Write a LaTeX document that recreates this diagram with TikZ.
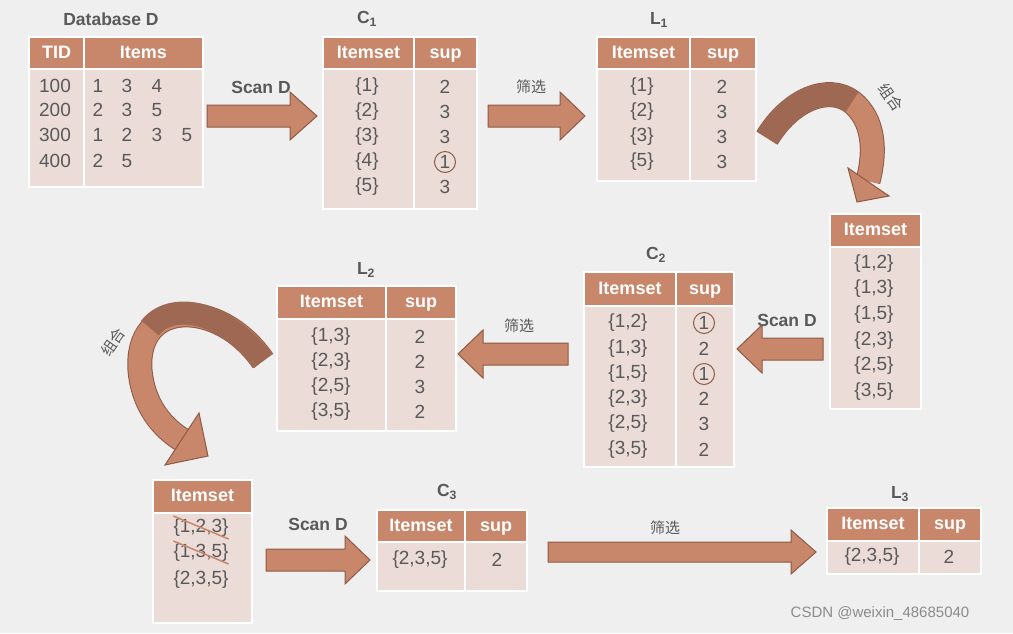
\documentclass[tikz,border=0pt]{standalone}
\usepackage{fontspec}
\setmainfont{Liberation Sans}
\newfontfamily\cjk{Noto Sans CJK SC}
\definecolor{bg}{HTML}{EFEFEF}
\definecolor{hc}{HTML}{C8866A}
\definecolor{bc}{HTML}{EBDCD8}
\definecolor{tx}{HTML}{595959}
\definecolor{dk}{HTML}{9E6852}
\definecolor{ol}{HTML}{8E5A46}
\tikzset{
 cellbox/.style={draw=white,line width=2pt,anchor=north west,inner sep=0pt},
 hdr/.style={cellbox,fill=hc,text=white,font=\bfseries\fontsize{18}{18}\selectfont,text height=13pt,text depth=3pt},
 bdy/.style={cellbox,fill=bc},
 txt/.style={text=tx,font=\fontsize{19}{19}\selectfont,inner sep=0pt},
 ttl/.style={text=tx,font=\bfseries\fontsize{17.5}{17.5}\selectfont,inner sep=0pt},
 cn/.style={text=tx,font=\cjk\fontsize{15}{15}\selectfont,inner sep=0pt},
 blockarrow/.style={fill=hc,draw=ol,line width=1pt},
 ring/.style={draw=ol,line width=1pt,circle,minimum size=21pt,inner sep=0pt},
}
\newcommand\twocol[9]{%
 \node[hdr,minimum width={#3-#2},minimum height={#6-#5}] (#1h1) at (#2,#5) {#8};
 \node[hdr,minimum width={#4-#3},minimum height={#6-#5}] (#1h2) at (#3,#5) {#9};
 \node[bdy,minimum width={#3-#2},minimum height={#7-#6}] (#1b1) at (#2,#6) {};
 \node[bdy,minimum width={#4-#3},minimum height={#7-#6}] (#1b2) at (#3,#6) {};}
\begin{document}
\begin{tikzpicture}[x=1pt,y=-1pt]
\fill[bg] (0,0) rectangle (1013,633);
\useasboundingbox (0,0) rectangle (1013,633);
% Database D
\node[ttl] (tD) at (111,19) {Database D};
\twocol{db}{28}{83}{202}{36}{68}{186}{TID}{Items}
\foreach \r/\y/\a/\b/\c/\d in {1/86/100/1/3/4, 2/110/200/2/3/5, 3/135/300/1/2/3, 4/161/400/2/5/}{
 \node[txt] (dbt\r) at (55,\y) {\a};
 \node[txt] (dbi\r) at (98,\y) {\b};
 \node[txt] (dbj\r) at (127,\y) {\c};
 \node[txt] (dbk\r) at (157,\y) {\d};}
\node[txt] (db5) at (187,135) {5};
% C1
\node[ttl] (tC1) at (367,19) {C\textsubscript{1}};
\twocol{ca}{322}{413}{476}{36}{68}{208}{Itemset}{sup}
\foreach \r/\y/\s/\v in {1/87/{\{1\}}/2, 2/112/{\{2\}}/3, 3/137/{\{3\}}/3, 4/162/{\{4\}}/1, 5/187/{\{5\}}/3}{
 \node[txt] (cas\r) at (367,\y) {\s};
 \node[txt] (cav\r) at (445,\y) {\v};}
\node[ring] (r1) at (cav4) {};
% arrow Scan D 1
\node[ttl] (sd1) at (261,87) {Scan D};
\draw[blockarrow] (207,105) -- (290,105) -- (290,92) -- (317,116) -- (290,140) -- (290,127) -- (207,127) -- cycle;
\node[cn] (f1) at (531,87) {筛选};
\draw[blockarrow] (488,105) -- (560,105) -- (560,92) -- (585,116) -- (560,140) -- (560,127) -- (488,127) -- cycle;
% L1
\node[ttl] (tL1) at (659,20) {L\textsubscript{1}};
\twocol{la}{596}{689}{755}{36}{68}{180}{Itemset}{sup}
\foreach \r/\y/\s/\v in {1/87/{\{1\}}/2, 2/112/{\{2\}}/3, 3/137/{\{3\}}/3, 4/162/{\{5\}}/3}{
 \node[txt] (las\r) at (642,\y) {\s};
 \node[txt] (lav\r) at (722,\y) {\v};}
% curved arrow 1
\draw[ol,line width=25pt] (767,138) .. controls (790,100) and (828,84) .. (852,102) .. controls (874,120) and (876,150) .. (868,181);
\draw[hc,line width=23pt] (767,138) .. controls (790,100) and (828,84) .. (852,102) .. controls (874,120) and (876,150) .. (868,181);
\draw[dk,line width=23pt] (767,138) .. controls (790,100) and (828,84) .. (852,102);
\fill[hc,draw=ol,line width=1pt] (848,168) -- (889,196) -- (857,202) -- cycle;
\node[cn,rotate=-55] (z1) at (891,97) {组合};
% C2 candidates
\node[hdr,minimum width=91,minimum height=33] (cbh) at (829,213) {Itemset};
\node[bdy,minimum width=91,minimum height=162] (cbb) at (829,246) {};
\foreach \r/\y/\s in {1/264/{\{1,2\}}, 2/289/{\{1,3\}}, 3/315/{\{1,5\}}, 4/341/{\{2,3\}}, 5/366/{\{2,5\}}, 6/392/{\{3,5\}}}{
 \node[txt] (cbs\r) at (874,\y) {\s};}
\node[ttl] (sd2) at (787,320) {Scan D};
\draw[blockarrow] (823,338) -- (762,338) -- (762,325) -- (737,349) -- (762,373) -- (762,360) -- (823,360) -- cycle;
% C2
\node[ttl] (tC2) at (656,255) {C\textsubscript{2}};
\twocol{cc}{583}{675}{733}{271}{305}{466}{Itemset}{sup}
\foreach \r/\y/\s/\v in {1/323/{\{1,2\}}/1, 2/349/{\{1,3\}}/2, 3/374/{\{1,5\}}/1, 4/399/{\{2,3\}}/2, 5/424/{\{2,5\}}/3, 6/450/{\{3,5\}}/2}{
 \node[txt] (ccs\r) at (628,\y) {\s};
 \node[txt] (ccv\r) at (704,\y) {\v};}
\node[ring] (r2) at (ccv1) {};
\node[ring] (r3) at (ccv3) {};
\node[cn] (f2) at (519,326) {筛选};
\draw[blockarrow] (568,343) -- (483,343) -- (483,330) -- (458,354) -- (483,378) -- (483,365) -- (568,365) -- cycle;
% L2
\node[ttl] (tL2) at (366,270) {L\textsubscript{2}};
\twocol{lb}{276}{385}{455}{285}{318}{430}{Itemset}{sup}
\foreach \r/\y/\s/\v in {1/337/{\{1,3\}}/2, 2/362/{\{2,3\}}/2, 3/387/{\{2,5\}}/3, 4/412/{\{3,5\}}/2}{
 \node[txt] (lbs\r) at (331,\y) {\s};
 \node[txt] (lbv\r) at (420,\y) {\v};}
% curved arrow 2
\draw[ol,line width=25pt] (263,361) .. controls (220,298) and (135,298) .. (140,370) .. controls (143,405) and (162,428) .. (184,441);
\draw[hc,line width=23pt] (263,361) .. controls (220,298) and (135,298) .. (140,370) .. controls (143,405) and (162,428) .. (184,441);
\draw[dk,line width=23pt] (263,361) .. controls (222,308) and (170,302) .. (150,328);
\fill[hc,draw=ol,line width=1pt] (199,413) -- (208,456) -- (165,465) -- cycle;
\node[cn,rotate=55] (z2) at (113,342) {组合};
% C3 candidates
\node[hdr,minimum width=99,minimum height=33] (cdh) at (152,479) {Itemset};
\node[bdy,minimum width=99,minimum height=110] (cdb) at (152,512) {};
\foreach \r/\y/\s in {1/528/{\{1,2,3\}}, 2/553/{\{1,3,5\}}, 3/580/{\{2,3,5\}}}{
 \node[txt] (cds\r) at (201,\y) {\s};}
\draw[hc,line width=1.5pt] ([yshift=3]cds1.north west) -- ([yshift=-2]cds1.south east);
\draw[hc,line width=1.5pt] ([yshift=3]cds2.north west) -- ([yshift=-2]cds2.south east);
\node[ttl] (sd3) at (318,524) {Scan D};
\draw[blockarrow] (266,549) -- (345,549) -- (345,536) -- (370,560) -- (345,584) -- (345,571) -- (266,571) -- cycle;
% C3
\node[ttl] (tC3) at (447,492) {C\textsubscript{3}};
\twocol{ce}{376}{464}{526}{509}{541}{590}{Itemset}{sup}
\node[txt] (ces1) at (420,560) {\{2,3,5\}};
\node[txt] (cev1) at (497,560) {2};
\node[cn] (f3) at (665,528) {筛选};
\draw[blockarrow] (548,542) -- (791,542) -- (791,530) -- (816,552) -- (791,574) -- (791,562) -- (548,562) -- cycle;
% L3
\node[ttl] (tL3) at (900,494) {L\textsubscript{3}};
\twocol{lc}{826}{918}{980}{507}{540}{573}{Itemset}{sup}
\node[txt] (lcs1) at (872,557) {\{2,3,5\}};
\node[txt] (lcv1) at (949,557) {2};
\node[text=tx!70,font=\fontsize{15}{15}\selectfont,inner sep=0pt] (wm) at (880,614) {CSDN @weixin\_48685040};
\end{tikzpicture}
\end{document}
